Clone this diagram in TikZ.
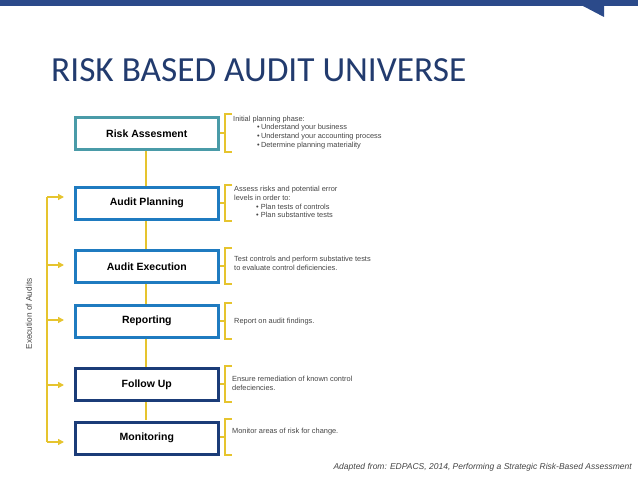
\documentclass[tikz,border=0pt]{standalone}
\usepackage{fontspec}
\usetikzlibrary{arrows.meta}
\setmainfont{Liberation Sans}
\newfontfamily\titlefont{Carlito}
\definecolor{navy}{HTML}{2B4A8A}
\definecolor{teal}{HTML}{4A9BA8}
\definecolor{midblue}{HTML}{1F7BC0}
\definecolor{dkblue}{HTML}{1B3C78}
\definecolor{ylw}{HTML}{E6C42E}
\definecolor{txt}{HTML}{444444}
\begin{document}
\begin{tikzpicture}[x=1pt,y=-1pt,
  box/.style={draw=#1,line width=2.6pt,fill=white,minimum width=143pt,minimum height=32pt,anchor=north west,font=\fontsize{10.5}{12}\selectfont\bfseries,text=black},
  yl/.style={draw=ylw,line width=1.3pt},
  desc/.style={anchor=north west,font=\fontsize{7.4}{8.8}\selectfont,text=txt,align=left,inner sep=0pt},
  arr/.style={yl,-{Triangle[length=6pt,width=6pt]}}]
\useasboundingbox (0,0) rectangle (638,478);
\fill[navy] (0,0) rectangle (638,6);
\fill[navy] (583,6) -- (604,6) -- (604,17) -- cycle;
\node[anchor=base west,inner sep=0pt,text=navy!80!black,font=\titlefont\fontsize{35.3}{38}\selectfont] (title) at (51,82) {RISK BASED AUDIT UNIVERSE};
% spine
\coordinate (sTop) at (146,150);
\coordinate (sBot) at (146,420);
\draw[yl] (sTop) -- (sBot);
\node[box=teal] (b1) at (74,116) {Risk Assesment};
\node[box=midblue] (b2) at (74,186) {Audit Planning};
\node[box=midblue] (b3) at (74,249) {Audit Execution};
\node[box=midblue] (b4) at (74,304) {Reporting};
\node[box=dkblue] (b5) at (74,367) {Follow Up};
\node[box=dkblue] (b6) at (74,421) {Monitoring};
% brackets
\foreach \t/\b in {114/152,185/221,248/284,303/339,366/402,419/455}{
  \draw[yl] (232,\t) -- (225,\t) -- (225,\b) -- (232,\b);
  \draw[yl] (225,{(\t+\b)/2}) -- (220,{(\t+\b)/2});
}
\node[desc] (d1) at (233,116) {Initial planning phase:\\[-0.5pt]
\hspace*{24pt}\textbullet\,Understand your business\\
\hspace*{24pt}\textbullet\,Understand your accounting process\\
\hspace*{24pt}\textbullet\,Determine planning materiality};
\node[desc] (d2) at (234,186) {Assess risks and potential error\\levels in order to:\\
\hspace*{22pt}\textbullet\ Plan tests of controls\\
\hspace*{22pt}\textbullet\ Plan substantive tests};
\node[desc] (d3) at (234,256) {Test controls and perform substative tests\\to evaluate control deficiencies.};
\node[desc] (d4) at (234,318) {Report on audit findings.};
\node[desc] (d5) at (232,376) {Ensure remediation of known control\\defeciencies.};
\node[desc] (d6) at (232,428) {Monitor areas of risk for change.};
% feedback
\coordinate (f2) at (47,197);
\coordinate (f6) at (47,442);
\draw[yl] (f2) -- (f6);
\foreach \y in {197,265,320,385,442}{ \draw[arr] (47,\y) -- (64,\y); }
\node[rotate=90,font=\fontsize{8.3}{10}\selectfont,text=txt] (ex) at (29,314) {Execution of Audits};
\node[anchor=base east,inner sep=0pt,font=\fontsize{8.5}{10}\selectfont\itshape,text=txt] (src) at (632,470) {Adapted from: EDPACS, 2014, Performing a Strategic Risk-Based Assessment};
\end{tikzpicture}
\end{document}
